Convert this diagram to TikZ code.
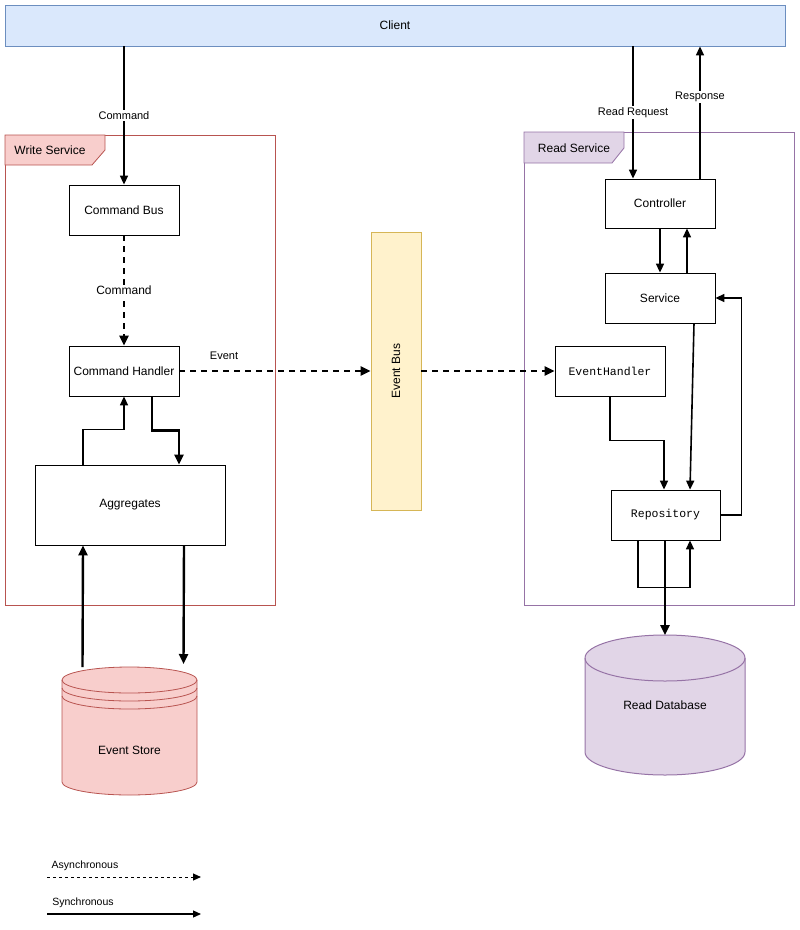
\documentclass[tikz,border=0pt]{standalone}
\usepackage{fontspec}
\setmainfont{Liberation Sans}
\setmonofont{Liberation Mono}
\usetikzlibrary{arrows.meta}
\definecolor{clientfill}{HTML}{DAE8FC}\definecolor{clientline}{HTML}{6C8EBF}
\definecolor{redfill}{HTML}{F8CECC}\definecolor{redline}{HTML}{B85450}
\definecolor{purfill}{HTML}{E1D5E7}\definecolor{purline}{HTML}{9673A6}
\definecolor{yelfill}{HTML}{FFF2CC}\definecolor{yelline}{HTML}{D6B656}
\begin{document}
\begin{tikzpicture}[x=1pt,y=-1pt,
  box/.style={draw,fill=white,line width=0.8pt,minimum width=110,minimum height=50,
    font=\fontsize{12}{14}\selectfont,inner sep=0},
  lbl/.style={font=\fontsize{11}{13}\selectfont,fill=white,inner sep=1pt},
  sync/.style={-{Triangle[length=9pt,width=8pt]},line width=1.6pt},
  synct/.style={-{Triangle[length=10pt,width=9pt]},line width=2.4pt},
  async/.style={-{Triangle[length=10pt,width=9pt]},line width=2.2pt,dash pattern=on 6pt off 5pt},
  tab/.style={font=\fontsize{12}{14}\selectfont}]
\useasboundingbox (0,0) rectangle (800,930);

% client
\node[draw=clientline,fill=clientfill,line width=0.8pt,minimum width=780,minimum height=41,
  inner sep=0,font=\fontsize{12}{14}\selectfont] (client) at (395,25.5) {Client};

% containers
\draw[redline,line width=0.8pt] (5,135) rectangle (275,605);
\draw[redline,fill=redfill,line width=0.8pt] (5,135)--(105,135)--(105,150)--(92,165)--(5,165)--cycle;
\node[tab] (wst) at (50,150) {Write Service};
\draw[purline,line width=0.8pt] (524,132) rectangle (794,605);
\draw[purline,fill=purfill,line width=0.8pt] (524,132)--(624,132)--(624,148)--(612,163)--(524,163)--cycle;
\node[tab] (rst) at (574,148) {Read Service};

% write side
\node[box] (cbus) at (124,210) {Command Bus};
\node[box] (chand) at (124,371) {Command Handler};
\node[box,minimum width=190,minimum height=80] (agg) at (130,505) {Aggregates};

% event bus
\node[draw=yelline,fill=yelfill,line width=0.8pt,minimum width=50,minimum height=278,inner sep=0] (ebus) at (396,371) {};
\node[rotate=90,font=\fontsize{12}{14}\selectfont] (ebust) at (396,371) {Event Bus};

% read side
\node[box,font=\ttfamily\fontsize{11.5}{13}\selectfont] (ehand) at (610,371) {EventHandler};
\node[box,minimum height=49] (ctrl) at (660,203.5) {Controller};
\node[box] (serv) at (660,298) {Service};
\node[box,minimum width=109,font=\ttfamily\fontsize{11.5}{13}\selectfont] (repo) at (665.5,515) {Repository};

% event store
\draw[redline,fill=redfill,line width=0.8pt] (62,680) -- (62,782) arc[start angle=180,end angle=0,x radius=67.5,y radius=13] -- (197,680) arc[start angle=0,end angle=-180,x radius=67.5,y radius=13];
\draw[redline,line width=0.8pt] (62,680) arc[start angle=180,end angle=0,x radius=67.5,y radius=13];
\draw[redline,line width=0.8pt] (62,688) arc[start angle=180,end angle=0,x radius=67.5,y radius=13];
\draw[redline,line width=0.8pt] (62,696) arc[start angle=180,end angle=0,x radius=67.5,y radius=13];
\coordinate (estop) at (129.5,667);
\node[font=\fontsize{12}{14}\selectfont] (es) at (129.5,750) {Event Store};

% read database
\draw[purline,fill=purfill,line width=1pt] (585,658) -- (585,752) arc[start angle=180,end angle=0,x radius=80,y radius=23] -- (745,658) arc[start angle=0,end angle=-180,x radius=80,y radius=23];
\draw[purline,line width=1pt] (585,658) arc[start angle=180,end angle=0,x radius=80,y radius=23];
\coordinate (dbtop) at (665,635);
\node[font=\fontsize{12}{14}\selectfont] (db) at (665,705) {Read Database};

% write connectors
\draw[sync] (client.south -| cbus) -- node[lbl,pos=0.5]{Command} (cbus.north);
\draw[async] (cbus.south) -- node[lbl,font=\fontsize{12}{14}\selectfont]{Command} (chand.north);
\draw[async] (chand.east) -- (ebus.west);
\node[lbl] (evl) at (224,356) {Event};
\draw[sync] ([xshift=-47]agg.north) -- ++(0,-35) -| (chand.south);
\draw[synct] ([xshift=28]chand.south) -- ++(0,34) -| ([xshift=49]agg.north);
\draw[synct] ([xshift=-47]estop) -- ([xshift=-47]agg.south);
\draw[synct] ([xshift=54]agg.south) -- ([xshift=54,yshift=3]estop);

% read connectors
\draw[async] (ebus.east |- ehand) -- (ehand.west);
\draw[sync] (client.south -| 633,0) -- node[lbl,pos=0.5]{Read Request} (ctrl.north -| 633,0);
\draw[sync] (ctrl.north -| 700,0) -- node[lbl,pos=0.62]{Response} (client.south -| 700,0);
\draw[sync] (ctrl.south -| 660,0) -- (serv.north -| 660,0);
\draw[sync] (serv.north -| 687,0) -- (ctrl.south -| 687,0);
\draw[sync] (serv.south -| 694,0) -- (repo.north -| 690,0);
\draw[sync] (repo.east) -- ++(21,0) |- (serv.east);
\draw[sync] (ehand.south -| 610,0) -- ++(0,44) -| (repo.north -| 664,0);
\draw[sync] (repo.south -| 638,0) -- ++(0,47) -| (repo.south -| 690,0);
\draw[synct] (repo.south -| 665,0) -- (dbtop);

% legend
\node[font=\fontsize{10.5}{12}\selectfont] (la) at (85,866) {Asynchronous};
\coordinate (la1) at (47,877); \coordinate (la2) at (201,877);
\draw[-{Triangle[length=8pt,width=7pt]},line width=1pt,dash pattern=on 3pt off 3pt] (la1) -- (la2);
\node[font=\fontsize{10.5}{12}\selectfont] (ls) at (83,903) {Synchronous};
\coordinate (ls1) at (47,914); \coordinate (ls2) at (201,914);
\draw[-{Triangle[length=8pt,width=7pt]},line width=1.2pt] (ls1) -- (ls2);
\end{tikzpicture}
\end{document}
